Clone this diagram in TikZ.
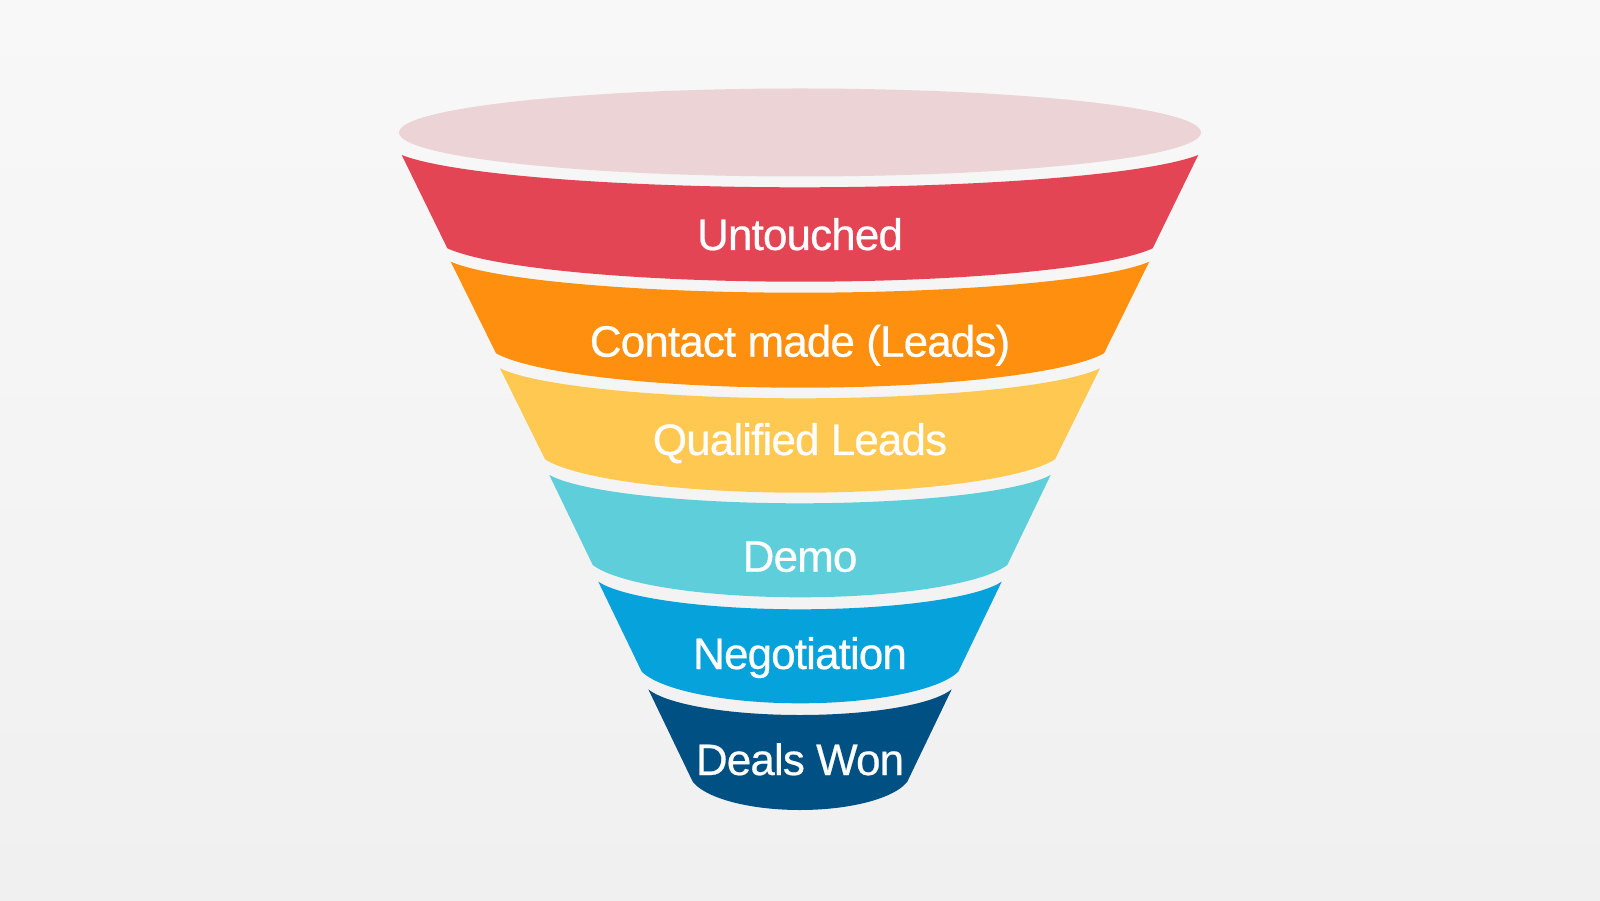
\documentclass[tikz,border=0pt]{standalone}
\usepackage{fontspec}
\setmainfont{Liberation Sans}
\newfontfamily\lblfont[FakeBold=0.5, LetterSpace=-2]{Liberation Sans}
\definecolor{bgtop}{HTML}{F8F8F8}
\definecolor{bgbot}{HTML}{F0F0F0}
\definecolor{rim}{HTML}{EBD3D6}
\definecolor{cred}{HTML}{E34555}
\definecolor{corange}{HTML}{FF8F0E}
\definecolor{cyellow}{HTML}{FFC850}
\definecolor{ccyan}{HTML}{5ECFDA}
\definecolor{cblue}{HTML}{05A2DB}
\definecolor{cnavy}{HTML}{005083}
\tikzset{
  lbl/.style={text=white, anchor=base, inner sep=0pt, font=\lblfont\fontsize{44}{50}\selectfont}
}
% #1 colour, #2 top corner y(px), #3 top half width, #4 top sag, #5 bottom corner y, #6 bottom half width, #7 bottom sag
\newcommand{\funnelband}[7]{%
  \pgfmathsetmacro{\TR}{#3/0.96593}%
  \pgfmathsetmacro{\Tr}{#4/0.74118}%
  \pgfmathsetmacro{\BR}{#6/0.96593}%
  \pgfmathsetmacro{\Br}{#7/0.74118}%
  \fill[#1] (800-#3, 900-#2) arc[start angle=195, end angle=345, x radius=\TR pt, y radius=\Tr pt]
     -- (800+#6, 900-#5) arc[start angle=-15, end angle=-165, x radius=\BR pt, y radius=\Br pt] -- cycle;%
}
\begin{document}
\begin{tikzpicture}[x=1pt,y=1pt]
\useasboundingbox (0,0) rectangle (1600,900);
\shade[top color=bgtop, bottom color=bgbot] (0,0) rectangle (1600,900);
% rim of the funnel
\fill[rim] (800,767.5) ellipse[x radius=401pt, y radius=44pt];
\funnelband{cred}{155}{398.3}{32.3}{248.3}{352.7}{33.4}
\funnelband{corange}{261.7}{349.3}{31}{353.3}{304}{34.4}
\funnelband{cyellow}{368.3}{300}{30}{459.3}{255}{33.4}
\funnelband{ccyan}{475}{250.7}{28.3}{565}{207.3}{32.3}
\funnelband{cblue}{581.7}{201.7}{27.6}{671.7}{158.3}{31.6}
\funnelband{cnavy}{689.3}{151.7}{25.7}{781.7}{107.3}{28.3}
\node[lbl] (t1) at (800,650) {Untouched};
\node[lbl] (t2) at (800,543.3) {Contact made (Leads)};
\node[lbl] (t3) at (800,445) {Qualified Leads};
\node[lbl] (t4) at (800,328.3) {Demo};
\node[lbl] (t5) at (800,231) {Negotiation};
\node[lbl] (t6) at (800,125) {Deals Won};
\end{tikzpicture}
\end{document}
